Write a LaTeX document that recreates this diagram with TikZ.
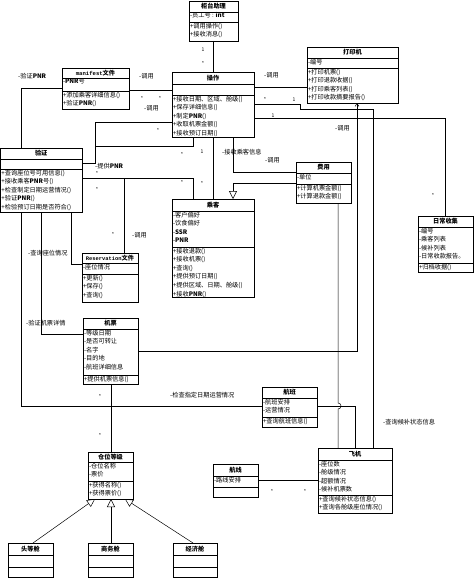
\documentclass[tikz,border=0pt]{standalone}
\usepackage{fontspec}
\setmainfont{Noto Sans CJK SC}
\newfontfamily\monof{Liberation Mono}
\usetikzlibrary{arrows.meta}
\tikzset{
  classbox/.style={draw, inner sep=0pt, outer sep=0pt, anchor=north west, line width=0.6pt},
  ctitle/.style={font=\bfseries\fontsize{6.2}{7}\selectfont, inner sep=0pt},
  cbody/.style={anchor=north west, align=left, inner xsep=0.8pt, inner ysep=0.6pt, font=\fontsize{6.2}{8.6}\selectfont},
  lbl/.style={font=\fontsize{6.2}{7}\selectfont, inner sep=0pt, anchor=west},
  mult/.style={font=\fontsize{5}{6}\selectfont, inner sep=0pt},
  conn/.style={line width=0.5pt},
  gen/.style={conn, -{Triangle[open,length=8pt,width=8pt]}},
  nav/.style={conn, -{Straight Barb[length=3pt,width=4pt]}},
}
\newcommand{\umlclass}[9]{%
  \pgfmathsetmacro\uw{#4-#2}%
  \pgfmathsetmacro\uh{#5-#3}%
  \pgfmathsetmacro\ucx{(#2+#4)/2}%
  \pgfmathsetmacro\uty{(#3+#6)/2}%
  \node[classbox, minimum width=\uw pt, minimum height=\uh pt] (#1) at (#2,#3) {};
  \draw (#2,#6) -- (#4,#6) (#2,#7) -- (#4,#7);
  \node[ctitle] (#1-t) at (\ucx,\uty) {#8};
  \node[cbody] (#1-a) at (#2,#6) {#9};
  \xdef\umlx{#2}\xdef\umls{#7}\xdef\umln{#1}%
}
\newcommand{\umlmeth}[1]{\node[cbody] (\umln-m) at (\umlx,\umls) {#1};}
\begin{document}
\begin{tikzpicture}[x=1pt,y=-1pt]
\useasboundingbox (0,0) rectangle (474,578);

\umlclass{guitai}{189}{1}{238}{41}{12}{22}{柜台助理}{-员工号 : \textbf{int}}
\umlmeth{+调用操作()\\+接收消息()}
\umlclass{manifest}{62}{68}{129}{109}{78}{91}{{\monof\fontsize{5.6}{7}\selectfont manifest}文件}{-\textbf{PNR}号}
\umlmeth{+添加乘客详细信息()\\+验证\textbf{PNR}()}
\umlclass{caozuo}{172}{72}{254}{137}{84}{95}{操作}{}
\umlmeth{+接收日期、区域、舱级()\\+保存详细信息()\\+制定\textbf{PNR}()\\+收取机票金额()\\+接收预订日期()}
\umlclass{dayinji}{307}{47}{398}{103}{58}{68}{打印机}{-编号}
\umlmeth{+打印机票()\\+打印退款收据()\\+打印乘客列表()\\+打印收款摘要报告()}
\umlclass{yanzheng}{0.5}{148}{82}{212}{159}{169}{验证}{}
\umlmeth{+查询座位号可用信息()\\+接收乘客\textbf{PNR}号()\\+检查制定日期运营情况()\\+验证\textbf{PNR}()\\+检验预订日期是否符合()}
\umlclass{chengke}{172}{199}{254}{297}{211}{247}{乘客}{-客户偏好\\-饮食偏好\\-\textbf{SSR}\\-\textbf{PNR}}
\umlmeth{+接收退款()\\+接收机票()\\+查询()\\+提供预订日期()\\+提供区域、日期、舱级()\\+接收\textbf{PNR}()}
\umlclass{feiyong}{296}{162}{351}{203}{173}{184}{费用}{-单位}
\umlmeth{+计算机票金额()\\+计算退款金额()}
\umlclass{richang}{418}{216}{473}{272}{227}{263}{日常收集}{-编号\\-乘客列表\\-候补列表\\-日常收款报告。}
\umlmeth{+归档收据()}
\umlclass{reserv}{82}{253}{138}{302}{263}{274}{{\monof\fontsize{5.4}{7}\selectfont Reservation}文件}{-座位情况}
\umlmeth{+更新()\\+保存()\\+查询()}
\umlclass{jipiao}{83}{318}{138}{384}{329}{375}{机票}{-等级日期\\-是否可转让\\-名字\\-目的地\\-航班详细信息}
\umlmeth{+提供机票信息()}
\umlclass{hangban}{262}{387}{317}{427}{398}{417}{航班}{-航班安排\\-运营情况}
\umlmeth{+查询航班信息()}
\umlclass{feiji}{318}{448}{392}{513}{460}{495}{飞机}{-座位数\\-舱级情况\\-超额情况\\-候补机票数}
\umlmeth{+查询候补状态信息()\\+查询各舱级座位情况()}
\umlclass{hangxian}{213}{464}{258}{497}{476}{487}{航线}{-路线安排}
\umlclass{cangwei}{88}{452}{133}{499}{462}{481}{仓位等级}{-仓位名称\\-票价}
\umlmeth{+获得名称()\\+获得票价()}
\umlclass{toudeng}{8}{543}{53}{577.5}{555}{567}{头等舱}{}
\umlclass{shangwu}{88}{543}{133}{577.5}{555}{567}{商务舱}{}
\umlclass{jingji}{173}{543}{217}{577.5}{555}{567}{经济舱}{}

% connectors
\draw[conn] (guitai.south -| 213,0) -- (caozuo.north -| 213,0);
\draw[conn] (caozuo.east |- 0,87) -- (dayinji.west |- 0,87);
\draw[conn] (caozuo.east |- 0,104) -- (300,104) -- (300,109) -- (373,109) -- (feiji.north -| 373,0);
\draw[conn] (caozuo.east |- 0,118) -- (445,118) -- (richang.north -| 445,0);
\draw[nav] (jipiao.east |- 0,351) -- (357,351) -- (dayinji.south -| 357,0);
\draw[conn] (feiyong.south -| 338,0) -- (338,403) .. controls (342,403) and (342,409) .. (338,409) -- (feiji.north -| 338,0);
\draw[conn] (manifest.west |- 0,88) -- (21,88) -- (yanzheng.north -| 21,0);
\draw[conn] (manifest.east |- 0,90) -- (caozuo.west |- 0,90);
\draw[conn] (caozuo.west |- 0,122) -- (95,122) -- (95,163) -- (yanzheng.east |- 0,163);
\draw[conn] (caozuo.south -| 193,0) -- (193,146) -- (95,146);
\draw[conn] (yanzheng.east |- 0,178) -- (193,178) -- (chengke.north -| 193,0);
\draw[conn] (124,178) -- (reserv.north -| 124,0);
\draw[conn] (caozuo.south -| 213,0) -- (chengke.north -| 213,0);
\draw[conn] (caozuo.south -| 233,0) -- (233,172) -- (feiyong.west |- 0,172);
\draw[gen] (feiyong.west |- 0,183) -- (233,183) -- (chengke.north -| 233,0);
\draw[conn] (yanzheng.south -| 71,0) -- (71,264) -- (reserv.west |- 0,264);
\draw[conn] (yanzheng.south -| 41,0) -- (41,334) -- (jipiao.west |- 0,334);
\draw[conn] (yanzheng.south -| 21,0) -- (21,406) -- (hangban.west |- 0,406);
\draw[conn] (hangban.east |- 0,406) -- (355,406) -- (feiji.north -| 355,0);
\draw[conn] (hangxian.east |- 0,480) -- (feiji.west |- 0,480);
\draw[conn] (jipiao.south -| 111,0) -- (cangwei.north -| 111,0);
\draw[gen] (toudeng.north -| 33,0) -- (95,499);
\draw[gen] (shangwu.north -| 111,0) -- (cangwei.south -| 111,0);
\draw[gen] (jingji.north -| 193,0) -- (125,499);

% labels
\node[lbl] (l1) at (18,76) {-验证\textbf{PNR}};
\node[lbl] (l2) at (139,76) {-调用};
\node[lbl] (l3) at (264,75) {-调用};
\node[lbl] (l4) at (144,108) {-调用};
\node[lbl] (l5) at (335,128) {-调用};
\node[lbl] (l6) at (95,166) {-提供\textbf{PNR}};
\node[lbl] (l7) at (222,152) {-接收乘客信息};
\node[lbl] (l8) at (265,160) {-调用};
\node[lbl] (l9) at (132,235) {-调用};
\node[lbl] (l10) at (28,253) {-查询座位情况};
\node[lbl] (l11) at (26,323) {-验证机票详情};
\node[lbl] (l12) at (170,395) {-检查指定日期运营情况};
\node[lbl] (l13) at (383,422) {-查询候补状态信息};

\node[mult] (m1) at (203,50) {1};
\node[mult] (m2) at (203,64) {*};
\node[mult] (m3) at (265,100) {*};
\node[mult] (m4) at (294,100) {1};
\node[mult] (m5) at (273,116) {1};
\node[mult] (m6) at (160,99) {*};
\node[mult] (m6b) at (142,99) {*};
\node[mult] (m7) at (158,131) {*};
\node[mult] (m8) at (97,174) {*};
\node[mult] (m9) at (97,190) {*};
\node[mult] (m10) at (202,152) {1};
\node[mult] (m11) at (182,155) {*};
\node[mult] (m12) at (182,183) {*};
\node[mult] (m13) at (202,184) {*};
\node[mult] (m14) at (113,235) {*};
\node[mult] (m15) at (433,196) {*};
\node[mult] (m16) at (100,397) {*};
\node[mult] (m17) at (100,436) {*};
\node[mult] (m18) at (272,492) {*};
\node[mult] (m19) at (305,492) {*};
\end{tikzpicture}
\end{document}
